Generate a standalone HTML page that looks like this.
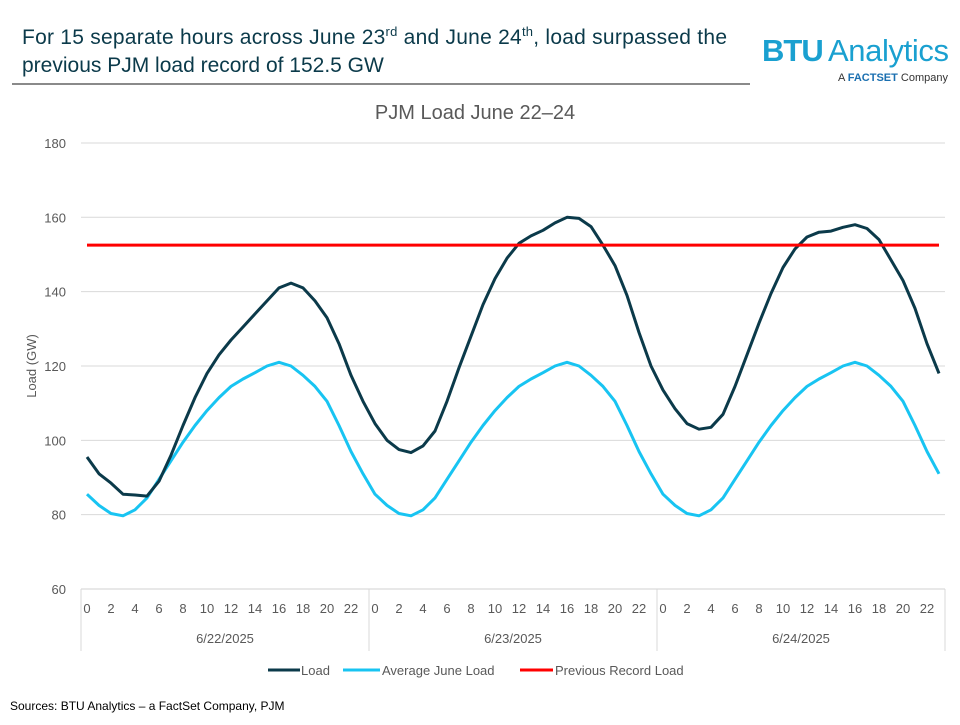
<!DOCTYPE html>
<html><head><meta charset="utf-8"><style>
body{margin:0;background:#fff;}
svg text{font-family:"Liberation Sans",sans-serif;}
</style></head><body>
<svg id="s" width="960" height="720" xmlns="http://www.w3.org/2000/svg">
<text x="22" y="44" font-size="21" fill="#0b3a4a" textLength="705">For 15 separate hours across June 23<tspan font-size="13" dy="-8">rd</tspan><tspan dy="8"> and June 24</tspan><tspan font-size="13" dy="-8">th</tspan><tspan dy="8">, load surpassed the</tspan></text>
<text x="22" y="72" font-size="21" fill="#0b3a4a">previous PJM load record of 152.5 GW</text>
<rect x="12" y="83" width="738" height="2" fill="#8a8a8a"/>
<text x="762" y="61" font-size="31" fill="#1aa0d0" font-weight="bold" letter-spacing="-1">BTU</text>
<text x="828" y="61" font-size="31" fill="#1aa0d0" letter-spacing="-1" textLength="120">Analytics</text>
<text x="948" y="81" font-size="11" fill="#333" text-anchor="end">A <tspan fill="#1a6fb0" font-weight="bold">FACTSET</tspan> Company</text>
<text x="475" y="119" font-size="20" fill="#595959" text-anchor="middle">PJM Load June 22–24</text>
<g id="grid" stroke="#d9d9d9" stroke-width="1"></g>
<g id="lab" font-size="13" fill="#595959"></g>
<text transform="translate(36,366) rotate(-90)" font-size="13" fill="#595959" text-anchor="middle">Load (GW)</text>
<g id="ser"></g>
<line x1="268" y1="670" x2="300" y2="670" stroke="#0b3a4a" stroke-width="3"/>
<text x="301" y="675" font-size="13" fill="#595959">Load</text>
<line x1="343" y1="670" x2="380" y2="670" stroke="#18c4f2" stroke-width="3"/>
<text x="382" y="675" font-size="13" fill="#595959">Average June Load</text>
<line x1="520" y1="670" x2="553" y2="670" stroke="#ff0000" stroke-width="3"/>
<text x="555" y="675" font-size="13" fill="#595959">Previous Record Load</text>
<text x="10" y="710" font-size="12" fill="#000">Sources: BTU Analytics – a FactSet Company, PJM</text>
</svg>
<script>
var NS="http://www.w3.org/2000/svg";
function Y(v){return 589-(v-60)*3.717;}
function X(i){return 87+i*12;}
function el(t,a,p,txt){var e=document.createElementNS(NS,t);for(var k in a)e.setAttribute(k,a[k]);if(txt!=null)e.textContent=txt;document.getElementById(p).appendChild(e);return e;}
for(var v=80;v<=180;v+=20)el("line",{x1:81,x2:945,y1:Y(v),y2:Y(v)},"grid");
el("line",{x1:81,x2:945,y1:589,y2:589,stroke:"#d0d0d0"},"grid");
[81,369,657,945].forEach(function(x){el("line",{x1:x,x2:x,y1:589,y2:651},"grid");});
for(var v=60;v<=180;v+=20)el("text",{x:66,y:Y(v)+5,"text-anchor":"end"},"lab",v);
for(var d=0;d<3;d++){for(var h=0;h<24;h+=2)el("text",{x:X(d*24+h),y:613,"text-anchor":"middle"},"lab",h);
el("text",{x:225+d*288,y:643,"text-anchor":"middle"},"lab",["6/22/2025","6/23/2025","6/24/2025"][d]);}
var load=[95.5,91,88.5,85.5,85.3,85,89,96,104,111.5,118,123,127,130.5,134,137.5,141,142.3,141,137.5,133,126,117.5,110.5,
104.5,100,97.5,96.7,98.5,102.5,110.5,119.5,128,136.5,143.5,149,153,155,156.5,158.5,160,159.7,157.5,152.5,147,139,129,120,
113.5,108.5,104.5,103,103.5,107,114.5,123,131.5,139.5,146.5,151.5,154.7,156,156.3,157.3,158,157,154,148.5,143,135.5,126,118];
var a=[85.5,82.5,80.3,79.7,81.3,84.5,89.5,94.5,99.5,104,108,111.5,114.5,116.5,118.2,120,121,120,117.5,114.5,110.5,104,97,91];
var avg=a.concat(a,a);
function pl(d,c){el("polyline",{points:d.map(function(v,i){return X(i)+","+Y(v).toFixed(1)}).join(" "),fill:"none",stroke:c,"stroke-width":3,"stroke-linejoin":"round"},"ser");}
pl(avg,"#18c4f2");pl(load,"#0b3a4a");
el("line",{x1:87,x2:939,y1:Y(152.5),y2:Y(152.5),stroke:"#ff0000","stroke-width":3},"ser");
</script>
</body></html>
